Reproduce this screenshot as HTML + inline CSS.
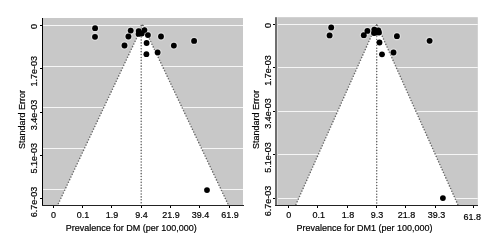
<!DOCTYPE html>
<html><head><meta charset="utf-8"><title>Funnel plots</title>
<style>
html,body{margin:0;padding:0;background:#fff;}
body{width:499px;height:251px;overflow:hidden;}
svg{display:block;}
text{font-family:"Liberation Sans", Arial, sans-serif;font-size:9.5px;fill:#000;stroke:#000;stroke-width:0.2px;}
</style></head><body>
<svg width="499" height="251" viewBox="0 0 499 251">
<rect width="499" height="251" fill="#fff"/>
<rect x="43" y="18" width="200" height="187" fill="#c8c8c8"/>
<rect x="43" y="25" width="200" height="1" fill="#f6f6f6"/>
<rect x="43" y="66" width="200" height="1" fill="#f6f6f6"/>
<rect x="43" y="107" width="200" height="1" fill="#f6f6f6"/>
<rect x="43" y="148" width="200" height="1" fill="#f6f6f6"/>
<rect x="43" y="189" width="200" height="1" fill="#f6f6f6"/>
<polygon points="142.8,25 228.4,205 57.7,205" fill="#fff"/>
<path d="M141.82,25.38a0.8,0.8 0 1,0 1.6,0a0.8,0.8 0 1,0 -1.6,0M140.56,28.04a0.8,0.8 0 1,0 1.6,0a0.8,0.8 0 1,0 -1.6,0M139.31,30.70a0.8,0.8 0 1,0 1.6,0a0.8,0.8 0 1,0 -1.6,0M138.05,33.36a0.8,0.8 0 1,0 1.6,0a0.8,0.8 0 1,0 -1.6,0M136.79,36.02a0.8,0.8 0 1,0 1.6,0a0.8,0.8 0 1,0 -1.6,0M135.53,38.68a0.8,0.8 0 1,0 1.6,0a0.8,0.8 0 1,0 -1.6,0M134.27,41.34a0.8,0.8 0 1,0 1.6,0a0.8,0.8 0 1,0 -1.6,0M133.02,44.00a0.8,0.8 0 1,0 1.6,0a0.8,0.8 0 1,0 -1.6,0M131.76,46.66a0.8,0.8 0 1,0 1.6,0a0.8,0.8 0 1,0 -1.6,0M130.50,49.32a0.8,0.8 0 1,0 1.6,0a0.8,0.8 0 1,0 -1.6,0M129.24,51.98a0.8,0.8 0 1,0 1.6,0a0.8,0.8 0 1,0 -1.6,0M127.99,54.64a0.8,0.8 0 1,0 1.6,0a0.8,0.8 0 1,0 -1.6,0M126.73,57.30a0.8,0.8 0 1,0 1.6,0a0.8,0.8 0 1,0 -1.6,0M125.47,59.96a0.8,0.8 0 1,0 1.6,0a0.8,0.8 0 1,0 -1.6,0M124.21,62.62a0.8,0.8 0 1,0 1.6,0a0.8,0.8 0 1,0 -1.6,0M122.96,65.28a0.8,0.8 0 1,0 1.6,0a0.8,0.8 0 1,0 -1.6,0M121.70,67.94a0.8,0.8 0 1,0 1.6,0a0.8,0.8 0 1,0 -1.6,0M120.44,70.60a0.8,0.8 0 1,0 1.6,0a0.8,0.8 0 1,0 -1.6,0M119.18,73.26a0.8,0.8 0 1,0 1.6,0a0.8,0.8 0 1,0 -1.6,0M117.93,75.92a0.8,0.8 0 1,0 1.6,0a0.8,0.8 0 1,0 -1.6,0M116.67,78.58a0.8,0.8 0 1,0 1.6,0a0.8,0.8 0 1,0 -1.6,0M115.41,81.24a0.8,0.8 0 1,0 1.6,0a0.8,0.8 0 1,0 -1.6,0M114.15,83.90a0.8,0.8 0 1,0 1.6,0a0.8,0.8 0 1,0 -1.6,0M112.90,86.56a0.8,0.8 0 1,0 1.6,0a0.8,0.8 0 1,0 -1.6,0M111.64,89.22a0.8,0.8 0 1,0 1.6,0a0.8,0.8 0 1,0 -1.6,0M110.38,91.88a0.8,0.8 0 1,0 1.6,0a0.8,0.8 0 1,0 -1.6,0M109.12,94.54a0.8,0.8 0 1,0 1.6,0a0.8,0.8 0 1,0 -1.6,0M107.87,97.20a0.8,0.8 0 1,0 1.6,0a0.8,0.8 0 1,0 -1.6,0M106.61,99.86a0.8,0.8 0 1,0 1.6,0a0.8,0.8 0 1,0 -1.6,0M105.35,102.52a0.8,0.8 0 1,0 1.6,0a0.8,0.8 0 1,0 -1.6,0M104.09,105.18a0.8,0.8 0 1,0 1.6,0a0.8,0.8 0 1,0 -1.6,0M102.84,107.84a0.8,0.8 0 1,0 1.6,0a0.8,0.8 0 1,0 -1.6,0M101.58,110.50a0.8,0.8 0 1,0 1.6,0a0.8,0.8 0 1,0 -1.6,0M100.32,113.16a0.8,0.8 0 1,0 1.6,0a0.8,0.8 0 1,0 -1.6,0M99.06,115.82a0.8,0.8 0 1,0 1.6,0a0.8,0.8 0 1,0 -1.6,0M97.80,118.48a0.8,0.8 0 1,0 1.6,0a0.8,0.8 0 1,0 -1.6,0M96.55,121.14a0.8,0.8 0 1,0 1.6,0a0.8,0.8 0 1,0 -1.6,0M95.29,123.80a0.8,0.8 0 1,0 1.6,0a0.8,0.8 0 1,0 -1.6,0M94.03,126.46a0.8,0.8 0 1,0 1.6,0a0.8,0.8 0 1,0 -1.6,0M92.77,129.12a0.8,0.8 0 1,0 1.6,0a0.8,0.8 0 1,0 -1.6,0M91.52,131.78a0.8,0.8 0 1,0 1.6,0a0.8,0.8 0 1,0 -1.6,0M90.26,134.44a0.8,0.8 0 1,0 1.6,0a0.8,0.8 0 1,0 -1.6,0M89.00,137.10a0.8,0.8 0 1,0 1.6,0a0.8,0.8 0 1,0 -1.6,0M87.74,139.76a0.8,0.8 0 1,0 1.6,0a0.8,0.8 0 1,0 -1.6,0M86.49,142.42a0.8,0.8 0 1,0 1.6,0a0.8,0.8 0 1,0 -1.6,0M85.23,145.08a0.8,0.8 0 1,0 1.6,0a0.8,0.8 0 1,0 -1.6,0M83.97,147.74a0.8,0.8 0 1,0 1.6,0a0.8,0.8 0 1,0 -1.6,0M82.71,150.40a0.8,0.8 0 1,0 1.6,0a0.8,0.8 0 1,0 -1.6,0M81.46,153.06a0.8,0.8 0 1,0 1.6,0a0.8,0.8 0 1,0 -1.6,0M80.20,155.72a0.8,0.8 0 1,0 1.6,0a0.8,0.8 0 1,0 -1.6,0M78.94,158.38a0.8,0.8 0 1,0 1.6,0a0.8,0.8 0 1,0 -1.6,0M77.68,161.04a0.8,0.8 0 1,0 1.6,0a0.8,0.8 0 1,0 -1.6,0M76.43,163.70a0.8,0.8 0 1,0 1.6,0a0.8,0.8 0 1,0 -1.6,0M75.17,166.36a0.8,0.8 0 1,0 1.6,0a0.8,0.8 0 1,0 -1.6,0M73.91,169.02a0.8,0.8 0 1,0 1.6,0a0.8,0.8 0 1,0 -1.6,0M72.65,171.68a0.8,0.8 0 1,0 1.6,0a0.8,0.8 0 1,0 -1.6,0M71.40,174.34a0.8,0.8 0 1,0 1.6,0a0.8,0.8 0 1,0 -1.6,0M70.14,177.00a0.8,0.8 0 1,0 1.6,0a0.8,0.8 0 1,0 -1.6,0M68.88,179.66a0.8,0.8 0 1,0 1.6,0a0.8,0.8 0 1,0 -1.6,0M67.62,182.32a0.8,0.8 0 1,0 1.6,0a0.8,0.8 0 1,0 -1.6,0M66.37,184.98a0.8,0.8 0 1,0 1.6,0a0.8,0.8 0 1,0 -1.6,0M65.11,187.64a0.8,0.8 0 1,0 1.6,0a0.8,0.8 0 1,0 -1.6,0M63.85,190.30a0.8,0.8 0 1,0 1.6,0a0.8,0.8 0 1,0 -1.6,0M62.59,192.96a0.8,0.8 0 1,0 1.6,0a0.8,0.8 0 1,0 -1.6,0M61.33,195.62a0.8,0.8 0 1,0 1.6,0a0.8,0.8 0 1,0 -1.6,0M60.08,198.28a0.8,0.8 0 1,0 1.6,0a0.8,0.8 0 1,0 -1.6,0M58.82,200.94a0.8,0.8 0 1,0 1.6,0a0.8,0.8 0 1,0 -1.6,0M57.56,203.60a0.8,0.8 0 1,0 1.6,0a0.8,0.8 0 1,0 -1.6,0M142.29,25.60a0.8,0.8 0 1,0 1.6,0a0.8,0.8 0 1,0 -1.6,0M143.55,28.26a0.8,0.8 0 1,0 1.6,0a0.8,0.8 0 1,0 -1.6,0M144.82,30.92a0.8,0.8 0 1,0 1.6,0a0.8,0.8 0 1,0 -1.6,0M146.08,33.58a0.8,0.8 0 1,0 1.6,0a0.8,0.8 0 1,0 -1.6,0M147.35,36.24a0.8,0.8 0 1,0 1.6,0a0.8,0.8 0 1,0 -1.6,0M148.61,38.90a0.8,0.8 0 1,0 1.6,0a0.8,0.8 0 1,0 -1.6,0M149.88,41.56a0.8,0.8 0 1,0 1.6,0a0.8,0.8 0 1,0 -1.6,0M151.14,44.22a0.8,0.8 0 1,0 1.6,0a0.8,0.8 0 1,0 -1.6,0M152.41,46.88a0.8,0.8 0 1,0 1.6,0a0.8,0.8 0 1,0 -1.6,0M153.67,49.54a0.8,0.8 0 1,0 1.6,0a0.8,0.8 0 1,0 -1.6,0M154.94,52.20a0.8,0.8 0 1,0 1.6,0a0.8,0.8 0 1,0 -1.6,0M156.20,54.86a0.8,0.8 0 1,0 1.6,0a0.8,0.8 0 1,0 -1.6,0M157.47,57.52a0.8,0.8 0 1,0 1.6,0a0.8,0.8 0 1,0 -1.6,0M158.73,60.18a0.8,0.8 0 1,0 1.6,0a0.8,0.8 0 1,0 -1.6,0M160.00,62.84a0.8,0.8 0 1,0 1.6,0a0.8,0.8 0 1,0 -1.6,0M161.26,65.50a0.8,0.8 0 1,0 1.6,0a0.8,0.8 0 1,0 -1.6,0M162.52,68.16a0.8,0.8 0 1,0 1.6,0a0.8,0.8 0 1,0 -1.6,0M163.79,70.82a0.8,0.8 0 1,0 1.6,0a0.8,0.8 0 1,0 -1.6,0M165.05,73.48a0.8,0.8 0 1,0 1.6,0a0.8,0.8 0 1,0 -1.6,0M166.32,76.14a0.8,0.8 0 1,0 1.6,0a0.8,0.8 0 1,0 -1.6,0M167.58,78.80a0.8,0.8 0 1,0 1.6,0a0.8,0.8 0 1,0 -1.6,0M168.85,81.46a0.8,0.8 0 1,0 1.6,0a0.8,0.8 0 1,0 -1.6,0M170.11,84.12a0.8,0.8 0 1,0 1.6,0a0.8,0.8 0 1,0 -1.6,0M171.38,86.78a0.8,0.8 0 1,0 1.6,0a0.8,0.8 0 1,0 -1.6,0M172.64,89.44a0.8,0.8 0 1,0 1.6,0a0.8,0.8 0 1,0 -1.6,0M173.91,92.10a0.8,0.8 0 1,0 1.6,0a0.8,0.8 0 1,0 -1.6,0M175.17,94.76a0.8,0.8 0 1,0 1.6,0a0.8,0.8 0 1,0 -1.6,0M176.44,97.42a0.8,0.8 0 1,0 1.6,0a0.8,0.8 0 1,0 -1.6,0M177.70,100.08a0.8,0.8 0 1,0 1.6,0a0.8,0.8 0 1,0 -1.6,0M178.97,102.74a0.8,0.8 0 1,0 1.6,0a0.8,0.8 0 1,0 -1.6,0M180.23,105.40a0.8,0.8 0 1,0 1.6,0a0.8,0.8 0 1,0 -1.6,0M181.50,108.06a0.8,0.8 0 1,0 1.6,0a0.8,0.8 0 1,0 -1.6,0M182.76,110.72a0.8,0.8 0 1,0 1.6,0a0.8,0.8 0 1,0 -1.6,0M184.03,113.38a0.8,0.8 0 1,0 1.6,0a0.8,0.8 0 1,0 -1.6,0M185.29,116.04a0.8,0.8 0 1,0 1.6,0a0.8,0.8 0 1,0 -1.6,0M186.56,118.70a0.8,0.8 0 1,0 1.6,0a0.8,0.8 0 1,0 -1.6,0M187.82,121.36a0.8,0.8 0 1,0 1.6,0a0.8,0.8 0 1,0 -1.6,0M189.09,124.02a0.8,0.8 0 1,0 1.6,0a0.8,0.8 0 1,0 -1.6,0M190.35,126.68a0.8,0.8 0 1,0 1.6,0a0.8,0.8 0 1,0 -1.6,0M191.62,129.34a0.8,0.8 0 1,0 1.6,0a0.8,0.8 0 1,0 -1.6,0M192.88,132.00a0.8,0.8 0 1,0 1.6,0a0.8,0.8 0 1,0 -1.6,0M194.15,134.66a0.8,0.8 0 1,0 1.6,0a0.8,0.8 0 1,0 -1.6,0M195.41,137.32a0.8,0.8 0 1,0 1.6,0a0.8,0.8 0 1,0 -1.6,0M196.68,139.98a0.8,0.8 0 1,0 1.6,0a0.8,0.8 0 1,0 -1.6,0M197.94,142.64a0.8,0.8 0 1,0 1.6,0a0.8,0.8 0 1,0 -1.6,0M199.21,145.30a0.8,0.8 0 1,0 1.6,0a0.8,0.8 0 1,0 -1.6,0M200.47,147.96a0.8,0.8 0 1,0 1.6,0a0.8,0.8 0 1,0 -1.6,0M201.74,150.62a0.8,0.8 0 1,0 1.6,0a0.8,0.8 0 1,0 -1.6,0M203.00,153.28a0.8,0.8 0 1,0 1.6,0a0.8,0.8 0 1,0 -1.6,0M204.27,155.94a0.8,0.8 0 1,0 1.6,0a0.8,0.8 0 1,0 -1.6,0M205.53,158.60a0.8,0.8 0 1,0 1.6,0a0.8,0.8 0 1,0 -1.6,0M206.80,161.26a0.8,0.8 0 1,0 1.6,0a0.8,0.8 0 1,0 -1.6,0M208.06,163.92a0.8,0.8 0 1,0 1.6,0a0.8,0.8 0 1,0 -1.6,0M209.33,166.58a0.8,0.8 0 1,0 1.6,0a0.8,0.8 0 1,0 -1.6,0M210.59,169.24a0.8,0.8 0 1,0 1.6,0a0.8,0.8 0 1,0 -1.6,0M211.86,171.90a0.8,0.8 0 1,0 1.6,0a0.8,0.8 0 1,0 -1.6,0M213.12,174.56a0.8,0.8 0 1,0 1.6,0a0.8,0.8 0 1,0 -1.6,0M214.39,177.22a0.8,0.8 0 1,0 1.6,0a0.8,0.8 0 1,0 -1.6,0M215.65,179.88a0.8,0.8 0 1,0 1.6,0a0.8,0.8 0 1,0 -1.6,0M216.92,182.54a0.8,0.8 0 1,0 1.6,0a0.8,0.8 0 1,0 -1.6,0M218.18,185.20a0.8,0.8 0 1,0 1.6,0a0.8,0.8 0 1,0 -1.6,0M219.45,187.86a0.8,0.8 0 1,0 1.6,0a0.8,0.8 0 1,0 -1.6,0M220.71,190.52a0.8,0.8 0 1,0 1.6,0a0.8,0.8 0 1,0 -1.6,0M221.98,193.18a0.8,0.8 0 1,0 1.6,0a0.8,0.8 0 1,0 -1.6,0M223.24,195.84a0.8,0.8 0 1,0 1.6,0a0.8,0.8 0 1,0 -1.6,0M224.51,198.50a0.8,0.8 0 1,0 1.6,0a0.8,0.8 0 1,0 -1.6,0M225.77,201.16a0.8,0.8 0 1,0 1.6,0a0.8,0.8 0 1,0 -1.6,0M227.04,203.82a0.8,0.8 0 1,0 1.6,0a0.8,0.8 0 1,0 -1.6,0M140.40,25.49a0.8,0.8 0 1,0 1.6,0a0.8,0.8 0 1,0 -1.6,0M140.40,28.39a0.8,0.8 0 1,0 1.6,0a0.8,0.8 0 1,0 -1.6,0M140.40,31.30a0.8,0.8 0 1,0 1.6,0a0.8,0.8 0 1,0 -1.6,0M140.40,34.20a0.8,0.8 0 1,0 1.6,0a0.8,0.8 0 1,0 -1.6,0M140.40,37.11a0.8,0.8 0 1,0 1.6,0a0.8,0.8 0 1,0 -1.6,0M140.40,40.01a0.8,0.8 0 1,0 1.6,0a0.8,0.8 0 1,0 -1.6,0M140.40,42.92a0.8,0.8 0 1,0 1.6,0a0.8,0.8 0 1,0 -1.6,0M140.40,45.82a0.8,0.8 0 1,0 1.6,0a0.8,0.8 0 1,0 -1.6,0M140.40,48.73a0.8,0.8 0 1,0 1.6,0a0.8,0.8 0 1,0 -1.6,0M140.40,51.63a0.8,0.8 0 1,0 1.6,0a0.8,0.8 0 1,0 -1.6,0M140.40,54.54a0.8,0.8 0 1,0 1.6,0a0.8,0.8 0 1,0 -1.6,0M140.40,57.44a0.8,0.8 0 1,0 1.6,0a0.8,0.8 0 1,0 -1.6,0M140.40,60.35a0.8,0.8 0 1,0 1.6,0a0.8,0.8 0 1,0 -1.6,0M140.40,63.25a0.8,0.8 0 1,0 1.6,0a0.8,0.8 0 1,0 -1.6,0M140.40,66.16a0.8,0.8 0 1,0 1.6,0a0.8,0.8 0 1,0 -1.6,0M140.40,69.06a0.8,0.8 0 1,0 1.6,0a0.8,0.8 0 1,0 -1.6,0M140.40,71.97a0.8,0.8 0 1,0 1.6,0a0.8,0.8 0 1,0 -1.6,0M140.40,74.87a0.8,0.8 0 1,0 1.6,0a0.8,0.8 0 1,0 -1.6,0M140.40,77.78a0.8,0.8 0 1,0 1.6,0a0.8,0.8 0 1,0 -1.6,0M140.40,80.68a0.8,0.8 0 1,0 1.6,0a0.8,0.8 0 1,0 -1.6,0M140.40,83.59a0.8,0.8 0 1,0 1.6,0a0.8,0.8 0 1,0 -1.6,0M140.40,86.49a0.8,0.8 0 1,0 1.6,0a0.8,0.8 0 1,0 -1.6,0M140.40,89.40a0.8,0.8 0 1,0 1.6,0a0.8,0.8 0 1,0 -1.6,0M140.40,92.30a0.8,0.8 0 1,0 1.6,0a0.8,0.8 0 1,0 -1.6,0M140.40,95.21a0.8,0.8 0 1,0 1.6,0a0.8,0.8 0 1,0 -1.6,0M140.40,98.11a0.8,0.8 0 1,0 1.6,0a0.8,0.8 0 1,0 -1.6,0M140.40,101.02a0.8,0.8 0 1,0 1.6,0a0.8,0.8 0 1,0 -1.6,0M140.40,103.92a0.8,0.8 0 1,0 1.6,0a0.8,0.8 0 1,0 -1.6,0M140.40,106.83a0.8,0.8 0 1,0 1.6,0a0.8,0.8 0 1,0 -1.6,0M140.40,109.73a0.8,0.8 0 1,0 1.6,0a0.8,0.8 0 1,0 -1.6,0M140.40,112.64a0.8,0.8 0 1,0 1.6,0a0.8,0.8 0 1,0 -1.6,0M140.40,115.54a0.8,0.8 0 1,0 1.6,0a0.8,0.8 0 1,0 -1.6,0M140.40,118.45a0.8,0.8 0 1,0 1.6,0a0.8,0.8 0 1,0 -1.6,0M140.40,121.35a0.8,0.8 0 1,0 1.6,0a0.8,0.8 0 1,0 -1.6,0M140.40,124.26a0.8,0.8 0 1,0 1.6,0a0.8,0.8 0 1,0 -1.6,0M140.40,127.16a0.8,0.8 0 1,0 1.6,0a0.8,0.8 0 1,0 -1.6,0M140.40,130.06a0.8,0.8 0 1,0 1.6,0a0.8,0.8 0 1,0 -1.6,0M140.40,132.97a0.8,0.8 0 1,0 1.6,0a0.8,0.8 0 1,0 -1.6,0M140.40,135.88a0.8,0.8 0 1,0 1.6,0a0.8,0.8 0 1,0 -1.6,0M140.40,138.78a0.8,0.8 0 1,0 1.6,0a0.8,0.8 0 1,0 -1.6,0M140.40,141.69a0.8,0.8 0 1,0 1.6,0a0.8,0.8 0 1,0 -1.6,0M140.40,144.59a0.8,0.8 0 1,0 1.6,0a0.8,0.8 0 1,0 -1.6,0M140.40,147.50a0.8,0.8 0 1,0 1.6,0a0.8,0.8 0 1,0 -1.6,0M140.40,150.40a0.8,0.8 0 1,0 1.6,0a0.8,0.8 0 1,0 -1.6,0M140.40,153.31a0.8,0.8 0 1,0 1.6,0a0.8,0.8 0 1,0 -1.6,0M140.40,156.21a0.8,0.8 0 1,0 1.6,0a0.8,0.8 0 1,0 -1.6,0M140.40,159.12a0.8,0.8 0 1,0 1.6,0a0.8,0.8 0 1,0 -1.6,0M140.40,162.02a0.8,0.8 0 1,0 1.6,0a0.8,0.8 0 1,0 -1.6,0M140.40,164.93a0.8,0.8 0 1,0 1.6,0a0.8,0.8 0 1,0 -1.6,0M140.40,167.83a0.8,0.8 0 1,0 1.6,0a0.8,0.8 0 1,0 -1.6,0M140.40,170.74a0.8,0.8 0 1,0 1.6,0a0.8,0.8 0 1,0 -1.6,0M140.40,173.64a0.8,0.8 0 1,0 1.6,0a0.8,0.8 0 1,0 -1.6,0M140.40,176.55a0.8,0.8 0 1,0 1.6,0a0.8,0.8 0 1,0 -1.6,0M140.40,179.45a0.8,0.8 0 1,0 1.6,0a0.8,0.8 0 1,0 -1.6,0M140.40,182.36a0.8,0.8 0 1,0 1.6,0a0.8,0.8 0 1,0 -1.6,0M140.40,185.26a0.8,0.8 0 1,0 1.6,0a0.8,0.8 0 1,0 -1.6,0M140.40,188.17a0.8,0.8 0 1,0 1.6,0a0.8,0.8 0 1,0 -1.6,0M140.40,191.07a0.8,0.8 0 1,0 1.6,0a0.8,0.8 0 1,0 -1.6,0M140.40,193.97a0.8,0.8 0 1,0 1.6,0a0.8,0.8 0 1,0 -1.6,0M140.40,196.88a0.8,0.8 0 1,0 1.6,0a0.8,0.8 0 1,0 -1.6,0M140.40,199.78a0.8,0.8 0 1,0 1.6,0a0.8,0.8 0 1,0 -1.6,0M140.40,202.69a0.8,0.8 0 1,0 1.6,0a0.8,0.8 0 1,0 -1.6,0" fill="#666"/>
<rect x="42" y="18" width="1" height="188" fill="#000"/>
<rect x="42" y="205" width="202" height="1" fill="#222"/>
<rect x="40" y="25" width="2" height="1" fill="#000"/>
<rect x="40" y="68" width="2" height="1" fill="#000"/>
<rect x="40" y="112" width="2" height="1" fill="#000"/>
<rect x="40" y="155" width="2" height="1" fill="#000"/>
<rect x="40" y="198" width="2" height="1" fill="#000"/>
<rect x="53" y="206" width="1" height="2" fill="#000"/>
<rect x="82" y="206" width="1" height="2" fill="#000"/>
<rect x="111" y="206" width="1" height="2" fill="#000"/>
<rect x="141" y="206" width="1" height="2" fill="#000"/>
<rect x="170" y="206" width="1" height="2" fill="#000"/>
<rect x="199" y="206" width="1" height="2" fill="#000"/>
<rect x="229" y="206" width="1" height="2" fill="#000"/>
<circle cx="95.1" cy="28.2" r="3.6" fill="none" stroke="#fff" stroke-opacity="0.35" stroke-width="1.2"/>
<circle cx="95.0" cy="36.8" r="3.6" fill="none" stroke="#fff" stroke-opacity="0.35" stroke-width="1.2"/>
<circle cx="130.7" cy="30.6" r="3.6" fill="none" stroke="#fff" stroke-opacity="0.35" stroke-width="1.2"/>
<circle cx="128.4" cy="36.5" r="3.6" fill="none" stroke="#fff" stroke-opacity="0.35" stroke-width="1.2"/>
<circle cx="124.5" cy="45.5" r="3.6" fill="none" stroke="#fff" stroke-opacity="0.35" stroke-width="1.2"/>
<circle cx="138.7" cy="31.1" r="3.6" fill="none" stroke="#fff" stroke-opacity="0.35" stroke-width="1.2"/>
<circle cx="144.4" cy="30.1" r="3.6" fill="none" stroke="#fff" stroke-opacity="0.35" stroke-width="1.2"/>
<circle cx="138.6" cy="33.9" r="3.6" fill="none" stroke="#fff" stroke-opacity="0.35" stroke-width="1.2"/>
<circle cx="141.8" cy="33.5" r="3.6" fill="none" stroke="#fff" stroke-opacity="0.35" stroke-width="1.2"/>
<circle cx="147.9" cy="35.1" r="3.6" fill="none" stroke="#fff" stroke-opacity="0.35" stroke-width="1.2"/>
<circle cx="146.6" cy="43.0" r="3.6" fill="none" stroke="#fff" stroke-opacity="0.35" stroke-width="1.2"/>
<circle cx="146.4" cy="54.2" r="3.6" fill="none" stroke="#fff" stroke-opacity="0.35" stroke-width="1.2"/>
<circle cx="157.6" cy="52.4" r="3.6" fill="none" stroke="#fff" stroke-opacity="0.35" stroke-width="1.2"/>
<circle cx="161.0" cy="36.5" r="3.6" fill="none" stroke="#fff" stroke-opacity="0.35" stroke-width="1.2"/>
<circle cx="173.85" cy="45.6" r="3.6" fill="none" stroke="#fff" stroke-opacity="0.35" stroke-width="1.2"/>
<circle cx="194.1" cy="40.9" r="3.6" fill="none" stroke="#fff" stroke-opacity="0.35" stroke-width="1.2"/>
<circle cx="207.0" cy="190.1" r="3.6" fill="none" stroke="#fff" stroke-opacity="0.35" stroke-width="1.2"/>
<circle cx="95.1" cy="28.2" r="2.9" fill="#000"/>
<circle cx="95.0" cy="36.8" r="2.9" fill="#000"/>
<circle cx="130.7" cy="30.6" r="2.9" fill="#000"/>
<circle cx="128.4" cy="36.5" r="2.9" fill="#000"/>
<circle cx="124.5" cy="45.5" r="2.9" fill="#000"/>
<circle cx="138.7" cy="31.1" r="2.9" fill="#000"/>
<circle cx="144.4" cy="30.1" r="2.9" fill="#000"/>
<circle cx="138.6" cy="33.9" r="2.9" fill="#000"/>
<circle cx="141.8" cy="33.5" r="2.9" fill="#000"/>
<circle cx="147.9" cy="35.1" r="2.9" fill="#000"/>
<circle cx="146.6" cy="43.0" r="2.9" fill="#000"/>
<circle cx="146.4" cy="54.2" r="2.9" fill="#000"/>
<circle cx="157.6" cy="52.4" r="2.9" fill="#000"/>
<circle cx="161.0" cy="36.5" r="2.9" fill="#000"/>
<circle cx="173.85" cy="45.6" r="2.9" fill="#000"/>
<circle cx="194.1" cy="40.9" r="2.9" fill="#000"/>
<circle cx="207.0" cy="190.1" r="2.9" fill="#000"/>
<text transform="translate(36.9,26.4) rotate(-90) scale(0.9474,1)" text-anchor="middle">0</text>
<text transform="translate(36.9,71.3) rotate(-90) scale(0.9474,1)" text-anchor="middle">1.7e-03</text>
<text transform="translate(36.9,115.1) rotate(-90) scale(0.9474,1)" text-anchor="middle">3.4e-03</text>
<text transform="translate(36.9,158.3) rotate(-90) scale(0.9474,1)" text-anchor="middle">5.1e-03</text>
<text transform="translate(36.9,202.1) rotate(-90) scale(0.9474,1)" text-anchor="middle">6.7e-03</text>
<text transform="translate(53.5,218.2) scale(0.9375,1)" text-anchor="middle" style="font-size:9.6px">0</text>
<text transform="translate(83,218.2) scale(0.9375,1)" text-anchor="middle" style="font-size:9.6px">0.1</text>
<text transform="translate(112,218.2) scale(0.9375,1)" text-anchor="middle" style="font-size:9.6px">1.9</text>
<text transform="translate(141.5,218.2) scale(0.9375,1)" text-anchor="middle" style="font-size:9.6px">9.4</text>
<text transform="translate(171,218.2) scale(0.9375,1)" text-anchor="middle" style="font-size:9.6px">21.9</text>
<text transform="translate(200.5,218.2) scale(0.9375,1)" text-anchor="middle" style="font-size:9.6px">39.4</text>
<text transform="translate(230,218.2) scale(0.9375,1)" text-anchor="middle" style="font-size:9.6px">61.9</text>
<text transform="translate(65.7,231.0) scale(0.9474,1)">Prevalence for DM (per 100,000)</text>
<text transform="translate(25,119.5) rotate(-90) scale(0.9474,1)" text-anchor="middle">Standard Error</text>
<rect x="277.6" y="17.2" width="200.2" height="187.8" fill="#c8c8c8"/>
<rect x="277.6" y="24" width="200.2" height="1" fill="#f6f6f6"/>
<rect x="277.6" y="67" width="200.2" height="1" fill="#f6f6f6"/>
<rect x="277.6" y="111" width="200.2" height="1" fill="#f6f6f6"/>
<rect x="277.6" y="154" width="200.2" height="1" fill="#f6f6f6"/>
<rect x="277.6" y="198" width="200.2" height="1" fill="#f6f6f6"/>
<polygon points="376.7,24 458.0,205 295.7,205" fill="#fff"/>
<path d="M375.21,25.55a0.8,0.8 0 1,0 1.6,0a0.8,0.8 0 1,0 -1.6,0M374.01,28.22a0.8,0.8 0 1,0 1.6,0a0.8,0.8 0 1,0 -1.6,0M372.82,30.89a0.8,0.8 0 1,0 1.6,0a0.8,0.8 0 1,0 -1.6,0M371.62,33.56a0.8,0.8 0 1,0 1.6,0a0.8,0.8 0 1,0 -1.6,0M370.43,36.23a0.8,0.8 0 1,0 1.6,0a0.8,0.8 0 1,0 -1.6,0M369.23,38.90a0.8,0.8 0 1,0 1.6,0a0.8,0.8 0 1,0 -1.6,0M368.04,41.57a0.8,0.8 0 1,0 1.6,0a0.8,0.8 0 1,0 -1.6,0M366.84,44.24a0.8,0.8 0 1,0 1.6,0a0.8,0.8 0 1,0 -1.6,0M365.65,46.91a0.8,0.8 0 1,0 1.6,0a0.8,0.8 0 1,0 -1.6,0M364.45,49.58a0.8,0.8 0 1,0 1.6,0a0.8,0.8 0 1,0 -1.6,0M363.26,52.25a0.8,0.8 0 1,0 1.6,0a0.8,0.8 0 1,0 -1.6,0M362.06,54.92a0.8,0.8 0 1,0 1.6,0a0.8,0.8 0 1,0 -1.6,0M360.87,57.59a0.8,0.8 0 1,0 1.6,0a0.8,0.8 0 1,0 -1.6,0M359.67,60.26a0.8,0.8 0 1,0 1.6,0a0.8,0.8 0 1,0 -1.6,0M358.48,62.93a0.8,0.8 0 1,0 1.6,0a0.8,0.8 0 1,0 -1.6,0M357.28,65.60a0.8,0.8 0 1,0 1.6,0a0.8,0.8 0 1,0 -1.6,0M356.09,68.27a0.8,0.8 0 1,0 1.6,0a0.8,0.8 0 1,0 -1.6,0M354.89,70.94a0.8,0.8 0 1,0 1.6,0a0.8,0.8 0 1,0 -1.6,0M353.70,73.61a0.8,0.8 0 1,0 1.6,0a0.8,0.8 0 1,0 -1.6,0M352.50,76.28a0.8,0.8 0 1,0 1.6,0a0.8,0.8 0 1,0 -1.6,0M351.31,78.95a0.8,0.8 0 1,0 1.6,0a0.8,0.8 0 1,0 -1.6,0M350.11,81.62a0.8,0.8 0 1,0 1.6,0a0.8,0.8 0 1,0 -1.6,0M348.92,84.29a0.8,0.8 0 1,0 1.6,0a0.8,0.8 0 1,0 -1.6,0M347.72,86.96a0.8,0.8 0 1,0 1.6,0a0.8,0.8 0 1,0 -1.6,0M346.53,89.63a0.8,0.8 0 1,0 1.6,0a0.8,0.8 0 1,0 -1.6,0M345.33,92.30a0.8,0.8 0 1,0 1.6,0a0.8,0.8 0 1,0 -1.6,0M344.14,94.97a0.8,0.8 0 1,0 1.6,0a0.8,0.8 0 1,0 -1.6,0M342.95,97.64a0.8,0.8 0 1,0 1.6,0a0.8,0.8 0 1,0 -1.6,0M341.75,100.31a0.8,0.8 0 1,0 1.6,0a0.8,0.8 0 1,0 -1.6,0M340.56,102.98a0.8,0.8 0 1,0 1.6,0a0.8,0.8 0 1,0 -1.6,0M339.36,105.65a0.8,0.8 0 1,0 1.6,0a0.8,0.8 0 1,0 -1.6,0M338.17,108.32a0.8,0.8 0 1,0 1.6,0a0.8,0.8 0 1,0 -1.6,0M336.97,110.99a0.8,0.8 0 1,0 1.6,0a0.8,0.8 0 1,0 -1.6,0M335.78,113.66a0.8,0.8 0 1,0 1.6,0a0.8,0.8 0 1,0 -1.6,0M334.58,116.33a0.8,0.8 0 1,0 1.6,0a0.8,0.8 0 1,0 -1.6,0M333.39,119.00a0.8,0.8 0 1,0 1.6,0a0.8,0.8 0 1,0 -1.6,0M332.19,121.67a0.8,0.8 0 1,0 1.6,0a0.8,0.8 0 1,0 -1.6,0M331.00,124.34a0.8,0.8 0 1,0 1.6,0a0.8,0.8 0 1,0 -1.6,0M329.80,127.01a0.8,0.8 0 1,0 1.6,0a0.8,0.8 0 1,0 -1.6,0M328.61,129.68a0.8,0.8 0 1,0 1.6,0a0.8,0.8 0 1,0 -1.6,0M327.41,132.35a0.8,0.8 0 1,0 1.6,0a0.8,0.8 0 1,0 -1.6,0M326.22,135.02a0.8,0.8 0 1,0 1.6,0a0.8,0.8 0 1,0 -1.6,0M325.02,137.69a0.8,0.8 0 1,0 1.6,0a0.8,0.8 0 1,0 -1.6,0M323.83,140.36a0.8,0.8 0 1,0 1.6,0a0.8,0.8 0 1,0 -1.6,0M322.63,143.03a0.8,0.8 0 1,0 1.6,0a0.8,0.8 0 1,0 -1.6,0M321.44,145.70a0.8,0.8 0 1,0 1.6,0a0.8,0.8 0 1,0 -1.6,0M320.24,148.37a0.8,0.8 0 1,0 1.6,0a0.8,0.8 0 1,0 -1.6,0M319.05,151.04a0.8,0.8 0 1,0 1.6,0a0.8,0.8 0 1,0 -1.6,0M317.85,153.71a0.8,0.8 0 1,0 1.6,0a0.8,0.8 0 1,0 -1.6,0M316.66,156.38a0.8,0.8 0 1,0 1.6,0a0.8,0.8 0 1,0 -1.6,0M315.46,159.05a0.8,0.8 0 1,0 1.6,0a0.8,0.8 0 1,0 -1.6,0M314.27,161.72a0.8,0.8 0 1,0 1.6,0a0.8,0.8 0 1,0 -1.6,0M313.07,164.39a0.8,0.8 0 1,0 1.6,0a0.8,0.8 0 1,0 -1.6,0M311.88,167.06a0.8,0.8 0 1,0 1.6,0a0.8,0.8 0 1,0 -1.6,0M310.68,169.73a0.8,0.8 0 1,0 1.6,0a0.8,0.8 0 1,0 -1.6,0M309.49,172.40a0.8,0.8 0 1,0 1.6,0a0.8,0.8 0 1,0 -1.6,0M308.29,175.07a0.8,0.8 0 1,0 1.6,0a0.8,0.8 0 1,0 -1.6,0M307.10,177.74a0.8,0.8 0 1,0 1.6,0a0.8,0.8 0 1,0 -1.6,0M305.90,180.41a0.8,0.8 0 1,0 1.6,0a0.8,0.8 0 1,0 -1.6,0M304.71,183.08a0.8,0.8 0 1,0 1.6,0a0.8,0.8 0 1,0 -1.6,0M303.51,185.75a0.8,0.8 0 1,0 1.6,0a0.8,0.8 0 1,0 -1.6,0M302.32,188.42a0.8,0.8 0 1,0 1.6,0a0.8,0.8 0 1,0 -1.6,0M301.12,191.09a0.8,0.8 0 1,0 1.6,0a0.8,0.8 0 1,0 -1.6,0M299.93,193.76a0.8,0.8 0 1,0 1.6,0a0.8,0.8 0 1,0 -1.6,0M298.74,196.43a0.8,0.8 0 1,0 1.6,0a0.8,0.8 0 1,0 -1.6,0M297.54,199.10a0.8,0.8 0 1,0 1.6,0a0.8,0.8 0 1,0 -1.6,0M296.35,201.77a0.8,0.8 0 1,0 1.6,0a0.8,0.8 0 1,0 -1.6,0M295.15,204.44a0.8,0.8 0 1,0 1.6,0a0.8,0.8 0 1,0 -1.6,0M376.66,25.69a0.8,0.8 0 1,0 1.6,0a0.8,0.8 0 1,0 -1.6,0M377.86,28.36a0.8,0.8 0 1,0 1.6,0a0.8,0.8 0 1,0 -1.6,0M379.06,31.03a0.8,0.8 0 1,0 1.6,0a0.8,0.8 0 1,0 -1.6,0M380.26,33.70a0.8,0.8 0 1,0 1.6,0a0.8,0.8 0 1,0 -1.6,0M381.46,36.37a0.8,0.8 0 1,0 1.6,0a0.8,0.8 0 1,0 -1.6,0M382.66,39.04a0.8,0.8 0 1,0 1.6,0a0.8,0.8 0 1,0 -1.6,0M383.85,41.71a0.8,0.8 0 1,0 1.6,0a0.8,0.8 0 1,0 -1.6,0M385.05,44.38a0.8,0.8 0 1,0 1.6,0a0.8,0.8 0 1,0 -1.6,0M386.25,47.05a0.8,0.8 0 1,0 1.6,0a0.8,0.8 0 1,0 -1.6,0M387.45,49.72a0.8,0.8 0 1,0 1.6,0a0.8,0.8 0 1,0 -1.6,0M388.65,52.39a0.8,0.8 0 1,0 1.6,0a0.8,0.8 0 1,0 -1.6,0M389.85,55.06a0.8,0.8 0 1,0 1.6,0a0.8,0.8 0 1,0 -1.6,0M391.05,57.73a0.8,0.8 0 1,0 1.6,0a0.8,0.8 0 1,0 -1.6,0M392.25,60.40a0.8,0.8 0 1,0 1.6,0a0.8,0.8 0 1,0 -1.6,0M393.45,63.07a0.8,0.8 0 1,0 1.6,0a0.8,0.8 0 1,0 -1.6,0M394.65,65.74a0.8,0.8 0 1,0 1.6,0a0.8,0.8 0 1,0 -1.6,0M395.85,68.41a0.8,0.8 0 1,0 1.6,0a0.8,0.8 0 1,0 -1.6,0M397.05,71.08a0.8,0.8 0 1,0 1.6,0a0.8,0.8 0 1,0 -1.6,0M398.25,73.75a0.8,0.8 0 1,0 1.6,0a0.8,0.8 0 1,0 -1.6,0M399.45,76.42a0.8,0.8 0 1,0 1.6,0a0.8,0.8 0 1,0 -1.6,0M400.64,79.09a0.8,0.8 0 1,0 1.6,0a0.8,0.8 0 1,0 -1.6,0M401.84,81.76a0.8,0.8 0 1,0 1.6,0a0.8,0.8 0 1,0 -1.6,0M403.04,84.43a0.8,0.8 0 1,0 1.6,0a0.8,0.8 0 1,0 -1.6,0M404.24,87.10a0.8,0.8 0 1,0 1.6,0a0.8,0.8 0 1,0 -1.6,0M405.44,89.77a0.8,0.8 0 1,0 1.6,0a0.8,0.8 0 1,0 -1.6,0M406.64,92.44a0.8,0.8 0 1,0 1.6,0a0.8,0.8 0 1,0 -1.6,0M407.84,95.11a0.8,0.8 0 1,0 1.6,0a0.8,0.8 0 1,0 -1.6,0M409.04,97.78a0.8,0.8 0 1,0 1.6,0a0.8,0.8 0 1,0 -1.6,0M410.24,100.45a0.8,0.8 0 1,0 1.6,0a0.8,0.8 0 1,0 -1.6,0M411.44,103.12a0.8,0.8 0 1,0 1.6,0a0.8,0.8 0 1,0 -1.6,0M412.64,105.79a0.8,0.8 0 1,0 1.6,0a0.8,0.8 0 1,0 -1.6,0M413.84,108.46a0.8,0.8 0 1,0 1.6,0a0.8,0.8 0 1,0 -1.6,0M415.04,111.13a0.8,0.8 0 1,0 1.6,0a0.8,0.8 0 1,0 -1.6,0M416.24,113.80a0.8,0.8 0 1,0 1.6,0a0.8,0.8 0 1,0 -1.6,0M417.43,116.47a0.8,0.8 0 1,0 1.6,0a0.8,0.8 0 1,0 -1.6,0M418.63,119.14a0.8,0.8 0 1,0 1.6,0a0.8,0.8 0 1,0 -1.6,0M419.83,121.81a0.8,0.8 0 1,0 1.6,0a0.8,0.8 0 1,0 -1.6,0M421.03,124.48a0.8,0.8 0 1,0 1.6,0a0.8,0.8 0 1,0 -1.6,0M422.23,127.15a0.8,0.8 0 1,0 1.6,0a0.8,0.8 0 1,0 -1.6,0M423.43,129.82a0.8,0.8 0 1,0 1.6,0a0.8,0.8 0 1,0 -1.6,0M424.63,132.49a0.8,0.8 0 1,0 1.6,0a0.8,0.8 0 1,0 -1.6,0M425.83,135.16a0.8,0.8 0 1,0 1.6,0a0.8,0.8 0 1,0 -1.6,0M427.03,137.83a0.8,0.8 0 1,0 1.6,0a0.8,0.8 0 1,0 -1.6,0M428.23,140.50a0.8,0.8 0 1,0 1.6,0a0.8,0.8 0 1,0 -1.6,0M429.43,143.17a0.8,0.8 0 1,0 1.6,0a0.8,0.8 0 1,0 -1.6,0M430.63,145.84a0.8,0.8 0 1,0 1.6,0a0.8,0.8 0 1,0 -1.6,0M431.83,148.51a0.8,0.8 0 1,0 1.6,0a0.8,0.8 0 1,0 -1.6,0M433.03,151.18a0.8,0.8 0 1,0 1.6,0a0.8,0.8 0 1,0 -1.6,0M434.22,153.85a0.8,0.8 0 1,0 1.6,0a0.8,0.8 0 1,0 -1.6,0M435.42,156.52a0.8,0.8 0 1,0 1.6,0a0.8,0.8 0 1,0 -1.6,0M436.62,159.19a0.8,0.8 0 1,0 1.6,0a0.8,0.8 0 1,0 -1.6,0M437.82,161.86a0.8,0.8 0 1,0 1.6,0a0.8,0.8 0 1,0 -1.6,0M439.02,164.53a0.8,0.8 0 1,0 1.6,0a0.8,0.8 0 1,0 -1.6,0M440.22,167.20a0.8,0.8 0 1,0 1.6,0a0.8,0.8 0 1,0 -1.6,0M441.42,169.87a0.8,0.8 0 1,0 1.6,0a0.8,0.8 0 1,0 -1.6,0M442.62,172.54a0.8,0.8 0 1,0 1.6,0a0.8,0.8 0 1,0 -1.6,0M443.82,175.21a0.8,0.8 0 1,0 1.6,0a0.8,0.8 0 1,0 -1.6,0M445.02,177.88a0.8,0.8 0 1,0 1.6,0a0.8,0.8 0 1,0 -1.6,0M446.22,180.55a0.8,0.8 0 1,0 1.6,0a0.8,0.8 0 1,0 -1.6,0M447.42,183.22a0.8,0.8 0 1,0 1.6,0a0.8,0.8 0 1,0 -1.6,0M448.62,185.89a0.8,0.8 0 1,0 1.6,0a0.8,0.8 0 1,0 -1.6,0M449.82,188.56a0.8,0.8 0 1,0 1.6,0a0.8,0.8 0 1,0 -1.6,0M451.01,191.23a0.8,0.8 0 1,0 1.6,0a0.8,0.8 0 1,0 -1.6,0M452.21,193.90a0.8,0.8 0 1,0 1.6,0a0.8,0.8 0 1,0 -1.6,0M453.41,196.57a0.8,0.8 0 1,0 1.6,0a0.8,0.8 0 1,0 -1.6,0M454.61,199.24a0.8,0.8 0 1,0 1.6,0a0.8,0.8 0 1,0 -1.6,0M455.81,201.91a0.8,0.8 0 1,0 1.6,0a0.8,0.8 0 1,0 -1.6,0M457.01,204.58a0.8,0.8 0 1,0 1.6,0a0.8,0.8 0 1,0 -1.6,0M375.90,24.84a0.8,0.8 0 1,0 1.6,0a0.8,0.8 0 1,0 -1.6,0M375.90,27.76a0.8,0.8 0 1,0 1.6,0a0.8,0.8 0 1,0 -1.6,0M375.90,30.68a0.8,0.8 0 1,0 1.6,0a0.8,0.8 0 1,0 -1.6,0M375.90,33.60a0.8,0.8 0 1,0 1.6,0a0.8,0.8 0 1,0 -1.6,0M375.90,36.52a0.8,0.8 0 1,0 1.6,0a0.8,0.8 0 1,0 -1.6,0M375.90,39.44a0.8,0.8 0 1,0 1.6,0a0.8,0.8 0 1,0 -1.6,0M375.90,42.36a0.8,0.8 0 1,0 1.6,0a0.8,0.8 0 1,0 -1.6,0M375.90,45.28a0.8,0.8 0 1,0 1.6,0a0.8,0.8 0 1,0 -1.6,0M375.90,48.20a0.8,0.8 0 1,0 1.6,0a0.8,0.8 0 1,0 -1.6,0M375.90,51.12a0.8,0.8 0 1,0 1.6,0a0.8,0.8 0 1,0 -1.6,0M375.90,54.04a0.8,0.8 0 1,0 1.6,0a0.8,0.8 0 1,0 -1.6,0M375.90,56.96a0.8,0.8 0 1,0 1.6,0a0.8,0.8 0 1,0 -1.6,0M375.90,59.88a0.8,0.8 0 1,0 1.6,0a0.8,0.8 0 1,0 -1.6,0M375.90,62.80a0.8,0.8 0 1,0 1.6,0a0.8,0.8 0 1,0 -1.6,0M375.90,65.72a0.8,0.8 0 1,0 1.6,0a0.8,0.8 0 1,0 -1.6,0M375.90,68.64a0.8,0.8 0 1,0 1.6,0a0.8,0.8 0 1,0 -1.6,0M375.90,71.56a0.8,0.8 0 1,0 1.6,0a0.8,0.8 0 1,0 -1.6,0M375.90,74.48a0.8,0.8 0 1,0 1.6,0a0.8,0.8 0 1,0 -1.6,0M375.90,77.40a0.8,0.8 0 1,0 1.6,0a0.8,0.8 0 1,0 -1.6,0M375.90,80.32a0.8,0.8 0 1,0 1.6,0a0.8,0.8 0 1,0 -1.6,0M375.90,83.24a0.8,0.8 0 1,0 1.6,0a0.8,0.8 0 1,0 -1.6,0M375.90,86.16a0.8,0.8 0 1,0 1.6,0a0.8,0.8 0 1,0 -1.6,0M375.90,89.08a0.8,0.8 0 1,0 1.6,0a0.8,0.8 0 1,0 -1.6,0M375.90,92.00a0.8,0.8 0 1,0 1.6,0a0.8,0.8 0 1,0 -1.6,0M375.90,94.92a0.8,0.8 0 1,0 1.6,0a0.8,0.8 0 1,0 -1.6,0M375.90,97.84a0.8,0.8 0 1,0 1.6,0a0.8,0.8 0 1,0 -1.6,0M375.90,100.76a0.8,0.8 0 1,0 1.6,0a0.8,0.8 0 1,0 -1.6,0M375.90,103.68a0.8,0.8 0 1,0 1.6,0a0.8,0.8 0 1,0 -1.6,0M375.90,106.60a0.8,0.8 0 1,0 1.6,0a0.8,0.8 0 1,0 -1.6,0M375.90,109.52a0.8,0.8 0 1,0 1.6,0a0.8,0.8 0 1,0 -1.6,0M375.90,112.44a0.8,0.8 0 1,0 1.6,0a0.8,0.8 0 1,0 -1.6,0M375.90,115.36a0.8,0.8 0 1,0 1.6,0a0.8,0.8 0 1,0 -1.6,0M375.90,118.28a0.8,0.8 0 1,0 1.6,0a0.8,0.8 0 1,0 -1.6,0M375.90,121.20a0.8,0.8 0 1,0 1.6,0a0.8,0.8 0 1,0 -1.6,0M375.90,124.12a0.8,0.8 0 1,0 1.6,0a0.8,0.8 0 1,0 -1.6,0M375.90,127.04a0.8,0.8 0 1,0 1.6,0a0.8,0.8 0 1,0 -1.6,0M375.90,129.96a0.8,0.8 0 1,0 1.6,0a0.8,0.8 0 1,0 -1.6,0M375.90,132.88a0.8,0.8 0 1,0 1.6,0a0.8,0.8 0 1,0 -1.6,0M375.90,135.80a0.8,0.8 0 1,0 1.6,0a0.8,0.8 0 1,0 -1.6,0M375.90,138.72a0.8,0.8 0 1,0 1.6,0a0.8,0.8 0 1,0 -1.6,0M375.90,141.64a0.8,0.8 0 1,0 1.6,0a0.8,0.8 0 1,0 -1.6,0M375.90,144.56a0.8,0.8 0 1,0 1.6,0a0.8,0.8 0 1,0 -1.6,0M375.90,147.48a0.8,0.8 0 1,0 1.6,0a0.8,0.8 0 1,0 -1.6,0M375.90,150.40a0.8,0.8 0 1,0 1.6,0a0.8,0.8 0 1,0 -1.6,0M375.90,153.32a0.8,0.8 0 1,0 1.6,0a0.8,0.8 0 1,0 -1.6,0M375.90,156.24a0.8,0.8 0 1,0 1.6,0a0.8,0.8 0 1,0 -1.6,0M375.90,159.16a0.8,0.8 0 1,0 1.6,0a0.8,0.8 0 1,0 -1.6,0M375.90,162.08a0.8,0.8 0 1,0 1.6,0a0.8,0.8 0 1,0 -1.6,0M375.90,165.00a0.8,0.8 0 1,0 1.6,0a0.8,0.8 0 1,0 -1.6,0M375.90,167.92a0.8,0.8 0 1,0 1.6,0a0.8,0.8 0 1,0 -1.6,0M375.90,170.84a0.8,0.8 0 1,0 1.6,0a0.8,0.8 0 1,0 -1.6,0M375.90,173.76a0.8,0.8 0 1,0 1.6,0a0.8,0.8 0 1,0 -1.6,0M375.90,176.68a0.8,0.8 0 1,0 1.6,0a0.8,0.8 0 1,0 -1.6,0M375.90,179.60a0.8,0.8 0 1,0 1.6,0a0.8,0.8 0 1,0 -1.6,0M375.90,182.52a0.8,0.8 0 1,0 1.6,0a0.8,0.8 0 1,0 -1.6,0M375.90,185.44a0.8,0.8 0 1,0 1.6,0a0.8,0.8 0 1,0 -1.6,0M375.90,188.36a0.8,0.8 0 1,0 1.6,0a0.8,0.8 0 1,0 -1.6,0M375.90,191.28a0.8,0.8 0 1,0 1.6,0a0.8,0.8 0 1,0 -1.6,0M375.90,194.20a0.8,0.8 0 1,0 1.6,0a0.8,0.8 0 1,0 -1.6,0M375.90,197.12a0.8,0.8 0 1,0 1.6,0a0.8,0.8 0 1,0 -1.6,0M375.90,200.04a0.8,0.8 0 1,0 1.6,0a0.8,0.8 0 1,0 -1.6,0M375.90,202.96a0.8,0.8 0 1,0 1.6,0a0.8,0.8 0 1,0 -1.6,0" fill="#666"/>
<rect x="277" y="17.2" width="1" height="187.8" fill="#dcdcdc"/>
<rect x="275" y="17.2" width="2" height="188.8" fill="#6e6e6e"/>
<rect x="275" y="205" width="203" height="1" fill="#222"/>
<rect x="273" y="24" width="2" height="1" fill="#000"/>
<rect x="273" y="67" width="2" height="1" fill="#000"/>
<rect x="273" y="111" width="2" height="1" fill="#000"/>
<rect x="273" y="154" width="2" height="1" fill="#000"/>
<rect x="273" y="198" width="2" height="1" fill="#000"/>
<rect x="288" y="206" width="1" height="2" fill="#000"/>
<rect x="317" y="206" width="1" height="2" fill="#000"/>
<rect x="347" y="206" width="1" height="2" fill="#000"/>
<rect x="376" y="206" width="1" height="2" fill="#000"/>
<rect x="405" y="206" width="1" height="2" fill="#000"/>
<rect x="435" y="206" width="1" height="2" fill="#000"/>
<rect x="473" y="206" width="1" height="2" fill="#000"/>
<circle cx="331.2" cy="27.4" r="3.6" fill="none" stroke="#fff" stroke-opacity="0.35" stroke-width="1.2"/>
<circle cx="329.6" cy="35.4" r="3.6" fill="none" stroke="#fff" stroke-opacity="0.35" stroke-width="1.2"/>
<circle cx="367.4" cy="30.9" r="3.6" fill="none" stroke="#fff" stroke-opacity="0.35" stroke-width="1.2"/>
<circle cx="363.8" cy="35.2" r="3.6" fill="none" stroke="#fff" stroke-opacity="0.35" stroke-width="1.2"/>
<circle cx="374.3" cy="29.6" r="3.6" fill="none" stroke="#fff" stroke-opacity="0.35" stroke-width="1.2"/>
<circle cx="378.3" cy="30.5" r="3.6" fill="none" stroke="#fff" stroke-opacity="0.35" stroke-width="1.2"/>
<circle cx="374.0" cy="33.0" r="3.6" fill="none" stroke="#fff" stroke-opacity="0.35" stroke-width="1.2"/>
<circle cx="379.0" cy="32.5" r="3.6" fill="none" stroke="#fff" stroke-opacity="0.35" stroke-width="1.2"/>
<circle cx="376.5" cy="32.6" r="3.6" fill="none" stroke="#fff" stroke-opacity="0.35" stroke-width="1.2"/>
<circle cx="379.5" cy="42.5" r="3.6" fill="none" stroke="#fff" stroke-opacity="0.35" stroke-width="1.2"/>
<circle cx="382.0" cy="54.3" r="3.6" fill="none" stroke="#fff" stroke-opacity="0.35" stroke-width="1.2"/>
<circle cx="393.5" cy="52.5" r="3.6" fill="none" stroke="#fff" stroke-opacity="0.35" stroke-width="1.2"/>
<circle cx="396.9" cy="36.2" r="3.6" fill="none" stroke="#fff" stroke-opacity="0.35" stroke-width="1.2"/>
<circle cx="429.6" cy="40.8" r="3.6" fill="none" stroke="#fff" stroke-opacity="0.35" stroke-width="1.2"/>
<circle cx="442.9" cy="198.1" r="3.6" fill="none" stroke="#fff" stroke-opacity="0.35" stroke-width="1.2"/>
<circle cx="331.2" cy="27.4" r="2.9" fill="#000"/>
<circle cx="329.6" cy="35.4" r="2.9" fill="#000"/>
<circle cx="367.4" cy="30.9" r="2.9" fill="#000"/>
<circle cx="363.8" cy="35.2" r="2.9" fill="#000"/>
<circle cx="374.3" cy="29.6" r="2.9" fill="#000"/>
<circle cx="378.3" cy="30.5" r="2.9" fill="#000"/>
<circle cx="374.0" cy="33.0" r="2.9" fill="#000"/>
<circle cx="379.0" cy="32.5" r="2.9" fill="#000"/>
<circle cx="376.5" cy="32.6" r="2.9" fill="#000"/>
<circle cx="379.5" cy="42.5" r="2.9" fill="#000"/>
<circle cx="382.0" cy="54.3" r="2.9" fill="#000"/>
<circle cx="393.5" cy="52.5" r="2.9" fill="#000"/>
<circle cx="396.9" cy="36.2" r="2.9" fill="#000"/>
<circle cx="429.6" cy="40.8" r="2.9" fill="#000"/>
<circle cx="442.9" cy="198.1" r="2.9" fill="#000"/>
<text transform="translate(271,25.4) rotate(-90) scale(0.9474,1)" text-anchor="middle">0</text>
<text transform="translate(271,70.4) rotate(-90) scale(0.9474,1)" text-anchor="middle">1.7e-03</text>
<text transform="translate(271,113.4) rotate(-90) scale(0.9474,1)" text-anchor="middle">3.4e-03</text>
<text transform="translate(271,157.4) rotate(-90) scale(0.9474,1)" text-anchor="middle">5.1e-03</text>
<text transform="translate(271,200.9) rotate(-90) scale(0.9474,1)" text-anchor="middle">6.7e-03</text>
<text transform="translate(288.8,218.2) scale(0.9375,1)" text-anchor="middle" style="font-size:9.6px">0</text>
<text transform="translate(318.7,218.2) scale(0.9375,1)" text-anchor="middle" style="font-size:9.6px">0.1</text>
<text transform="translate(348,218.2) scale(0.9375,1)" text-anchor="middle" style="font-size:9.6px">1.8</text>
<text transform="translate(377,218.2) scale(0.9375,1)" text-anchor="middle" style="font-size:9.6px">9.3</text>
<text transform="translate(406.5,218.2) scale(0.9375,1)" text-anchor="middle" style="font-size:9.6px">21.8</text>
<text transform="translate(436.4,218.2) scale(0.9375,1)" text-anchor="middle" style="font-size:9.6px">39.3</text>
<text transform="translate(472.3,220.4) scale(0.9375,1)" text-anchor="middle" style="font-size:9.6px">61.8</text>
<text transform="translate(296.6,231.0) scale(0.9474,1)">Prevalence for DM1 (per 100,000)</text>
<text transform="translate(258.6,119.5) rotate(-90) scale(0.9474,1)" text-anchor="middle">Standard Error</text>
</svg>
</body></html>
